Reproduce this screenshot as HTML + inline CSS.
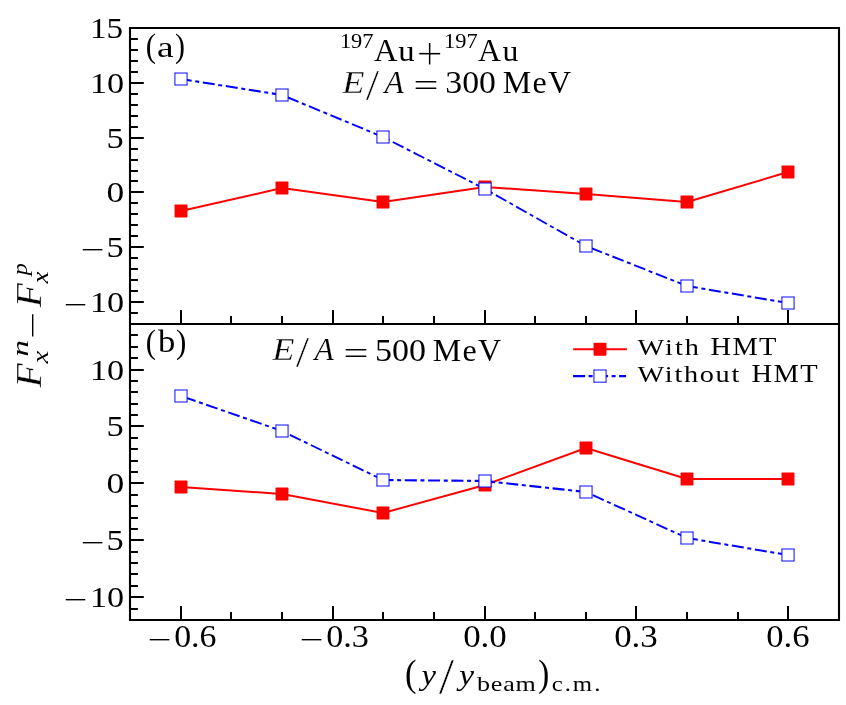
<!DOCTYPE html>
<html><head><meta charset="utf-8"><title>Figure</title>
<style>html,body{margin:0;padding:0;background:#fff}svg{display:block}</style></head>
<body>
<svg width="846" height="705" viewBox="0 0 846 705">
<rect width="846" height="705" fill="#fff"/>
<path d="M130.0 313h7.9 M130.0 302h13.8 M130.0 291h7.9 M130.0 280h7.9 M130.0 269h7.9 M130.0 258h7.9 M130.0 247h13.8 M130.0 236h7.9 M130.0 225h7.9 M130.0 214h7.9 M130.0 203h7.9 M130.0 192h13.8 M130.0 181h7.9 M130.0 171h7.9 M130.0 160h7.9 M130.0 149h7.9 M130.0 138h13.8 M130.0 127h7.9 M130.0 116h7.9 M130.0 105h7.9 M130.0 94h7.9 M130.0 83h13.8 M130.0 72h7.9 M130.0 61h7.9 M130.0 50h7.9 M130.0 39h7.9 M130.0 609h7.9 M130.0 597h13.8 M130.0 586h7.9 M130.0 574h7.9 M130.0 563h7.9 M130.0 552h7.9 M130.0 540h13.8 M130.0 529h7.9 M130.0 518h7.9 M130.0 506h7.9 M130.0 495h7.9 M130.0 483h13.8 M130.0 472h7.9 M130.0 461h7.9 M130.0 449h7.9 M130.0 438h7.9 M130.0 426h13.8 M130.0 415h7.9 M130.0 404h7.9 M130.0 392h7.9 M130.0 381h7.9 M130.0 370h13.8 M130.0 358h7.9 M130.0 347h7.9 M130.0 335h7.9 M181 324.0v-14.0 M181 620.0v-14.0 M231 324.0v-7.9 M231 620.0v-7.9 M282 324.0v-7.9 M282 620.0v-7.9 M333 324.0v-14.0 M333 620.0v-14.0 M383 324.0v-7.9 M383 620.0v-7.9 M434 324.0v-7.9 M434 620.0v-7.9 M485 324.0v-14.0 M485 620.0v-14.0 M535 324.0v-7.9 M535 620.0v-7.9 M586 324.0v-7.9 M586 620.0v-7.9 M636 324.0v-14.0 M636 620.0v-14.0 M687 324.0v-7.9 M687 620.0v-7.9 M738 324.0v-7.9 M738 620.0v-7.9 M788 324.0v-14.0 M788 620.0v-14.0" stroke="#000" stroke-width="2.0" fill="none"/>
<path d="M181 211L282 188" stroke="#ff0000" stroke-width="1.95" fill="none"/>
<path d="M282 188L383 202" stroke="#ff0000" stroke-width="1.98" fill="none"/>
<path d="M383 202L485 187" stroke="#ff0000" stroke-width="1.98" fill="none"/>
<path d="M485 187L586 194" stroke="#ff0000" stroke-width="2.00" fill="none"/>
<path d="M586 194L687 202" stroke="#ff0000" stroke-width="1.99" fill="none"/>
<path d="M687 202L788 172" stroke="#ff0000" stroke-width="1.92" fill="none"/>
<rect x="174.55" y="204.55" width="12.9" height="12.9" rx="0.7" fill="#ff0000"/>
<rect x="275.55" y="181.55" width="12.9" height="12.9" rx="0.7" fill="#ff0000"/>
<rect x="376.55" y="195.55" width="12.9" height="12.9" rx="0.7" fill="#ff0000"/>
<rect x="478.55" y="180.55" width="12.9" height="12.9" rx="0.7" fill="#ff0000"/>
<rect x="579.55" y="187.55" width="12.9" height="12.9" rx="0.7" fill="#ff0000"/>
<rect x="680.55" y="195.55" width="12.9" height="12.9" rx="0.7" fill="#ff0000"/>
<rect x="781.55" y="165.55" width="12.9" height="12.9" rx="0.7" fill="#ff0000"/>
<path d="M282 95L181 79" stroke="#0000ff" stroke-width="2.07" stroke-dasharray="12 3.65 4 3.65" stroke-dashoffset="1.7" fill="none"/>
<path d="M383 137L282 95" stroke="#0000ff" stroke-width="1.94" stroke-dasharray="12 3.65 4 3.65" stroke-dashoffset="1.7" fill="none"/>
<path d="M485 189L383 137" stroke="#0000ff" stroke-width="1.87" stroke-dasharray="12 3.65 4 3.65" stroke-dashoffset="1.7" fill="none"/>
<path d="M586 246L485 189" stroke="#0000ff" stroke-width="1.83" stroke-dasharray="12 3.65 4 3.65" stroke-dashoffset="1.7" fill="none"/>
<path d="M687 286L586 246" stroke="#0000ff" stroke-width="1.95" stroke-dasharray="12 3.65 4 3.65" stroke-dashoffset="1.7" fill="none"/>
<path d="M788 303L687 286" stroke="#0000ff" stroke-width="2.07" stroke-dasharray="12 3.65 4 3.65" stroke-dashoffset="1.7" fill="none"/>
<g transform="translate(181 79)" stroke="#0000ff" stroke-opacity="0.64" stroke-width="1.5" stroke-linecap="round"><rect x="-6.1" y="-6.1" width="12.2" height="12.2" rx="0.6" fill="#fff" stroke="none"/><path d="M-5.8 -6.1H5.8M-5.8 6.1H5.8"/><path d="M-6.1 -5.8V5.8M6.1 -5.8V5.8"/></g>
<g transform="translate(282 95)" stroke="#0000ff" stroke-opacity="0.64" stroke-width="1.5" stroke-linecap="round"><rect x="-6.1" y="-6.1" width="12.2" height="12.2" rx="0.6" fill="#fff" stroke="none"/><path d="M-5.8 -6.1H5.8M-5.8 6.1H5.8"/><path d="M-6.1 -5.8V5.8M6.1 -5.8V5.8"/></g>
<g transform="translate(383 137)" stroke="#0000ff" stroke-opacity="0.64" stroke-width="1.5" stroke-linecap="round"><rect x="-6.1" y="-6.1" width="12.2" height="12.2" rx="0.6" fill="#fff" stroke="none"/><path d="M-5.8 -6.1H5.8M-5.8 6.1H5.8"/><path d="M-6.1 -5.8V5.8M6.1 -5.8V5.8"/></g>
<g transform="translate(485 189)" stroke="#0000ff" stroke-opacity="0.64" stroke-width="1.5" stroke-linecap="round"><rect x="-6.1" y="-6.1" width="12.2" height="12.2" rx="0.6" fill="#fff" stroke="none"/><path d="M-5.8 -6.1H5.8M-5.8 6.1H5.8"/><path d="M-6.1 -5.8V5.8M6.1 -5.8V5.8"/></g>
<g transform="translate(586 246)" stroke="#0000ff" stroke-opacity="0.64" stroke-width="1.5" stroke-linecap="round"><rect x="-6.1" y="-6.1" width="12.2" height="12.2" rx="0.6" fill="#fff" stroke="none"/><path d="M-5.8 -6.1H5.8M-5.8 6.1H5.8"/><path d="M-6.1 -5.8V5.8M6.1 -5.8V5.8"/></g>
<g transform="translate(687 286)" stroke="#0000ff" stroke-opacity="0.64" stroke-width="1.5" stroke-linecap="round"><rect x="-6.1" y="-6.1" width="12.2" height="12.2" rx="0.6" fill="#fff" stroke="none"/><path d="M-5.8 -6.1H5.8M-5.8 6.1H5.8"/><path d="M-6.1 -5.8V5.8M6.1 -5.8V5.8"/></g>
<g transform="translate(788 303)" stroke="#0000ff" stroke-opacity="0.64" stroke-width="1.5" stroke-linecap="round"><rect x="-6.1" y="-6.1" width="12.2" height="12.2" rx="0.6" fill="#fff" stroke="none"/><path d="M-5.8 -6.1H5.8M-5.8 6.1H5.8"/><path d="M-6.1 -5.8V5.8M6.1 -5.8V5.8"/></g>
<path d="M181 487L282 494" stroke="#ff0000" stroke-width="2.00" fill="none"/>
<path d="M282 494L383 513" stroke="#ff0000" stroke-width="1.97" fill="none"/>
<path d="M383 513L485 485" stroke="#ff0000" stroke-width="1.93" fill="none"/>
<path d="M485 485L586 448" stroke="#ff0000" stroke-width="1.88" fill="none"/>
<path d="M586 448L687 479" stroke="#ff0000" stroke-width="1.91" fill="none"/>
<path d="M687 479L788 479" stroke="#ff0000" stroke-width="2.00" fill="none"/>
<rect x="174.55" y="480.55" width="12.9" height="12.9" rx="0.7" fill="#ff0000"/>
<rect x="275.55" y="487.55" width="12.9" height="12.9" rx="0.7" fill="#ff0000"/>
<rect x="376.55" y="506.55" width="12.9" height="12.9" rx="0.7" fill="#ff0000"/>
<rect x="478.55" y="478.55" width="12.9" height="12.9" rx="0.7" fill="#ff0000"/>
<rect x="579.55" y="441.55" width="12.9" height="12.9" rx="0.7" fill="#ff0000"/>
<rect x="680.55" y="472.55" width="12.9" height="12.9" rx="0.7" fill="#ff0000"/>
<rect x="781.55" y="472.55" width="12.9" height="12.9" rx="0.7" fill="#ff0000"/>
<path d="M282 431L181 396" stroke="#0000ff" stroke-width="1.98" stroke-dasharray="12 3.65 4 3.65" stroke-dashoffset="1.7" fill="none"/>
<path d="M383 480L282 431" stroke="#0000ff" stroke-width="1.89" stroke-dasharray="12 3.65 4 3.65" stroke-dashoffset="1.7" fill="none"/>
<path d="M485 481L383 480" stroke="#0000ff" stroke-width="2.10" stroke-dasharray="12 3.65 4 3.65" stroke-dashoffset="1.7" fill="none"/>
<path d="M586 492L485 481" stroke="#0000ff" stroke-width="2.09" stroke-dasharray="12 3.65 4 3.65" stroke-dashoffset="1.7" fill="none"/>
<path d="M687 538L586 492" stroke="#0000ff" stroke-width="1.91" stroke-dasharray="12 3.65 4 3.65" stroke-dashoffset="1.7" fill="none"/>
<path d="M788 555L687 538" stroke="#0000ff" stroke-width="2.07" stroke-dasharray="12 3.65 4 3.65" stroke-dashoffset="1.7" fill="none"/>
<g transform="translate(181 396)" stroke="#0000ff" stroke-opacity="0.64" stroke-width="1.5" stroke-linecap="round"><rect x="-6.1" y="-6.1" width="12.2" height="12.2" rx="0.6" fill="#fff" stroke="none"/><path d="M-5.8 -6.1H5.8M-5.8 6.1H5.8"/><path d="M-6.1 -5.8V5.8M6.1 -5.8V5.8"/></g>
<g transform="translate(282 431)" stroke="#0000ff" stroke-opacity="0.64" stroke-width="1.5" stroke-linecap="round"><rect x="-6.1" y="-6.1" width="12.2" height="12.2" rx="0.6" fill="#fff" stroke="none"/><path d="M-5.8 -6.1H5.8M-5.8 6.1H5.8"/><path d="M-6.1 -5.8V5.8M6.1 -5.8V5.8"/></g>
<g transform="translate(383 480)" stroke="#0000ff" stroke-opacity="0.64" stroke-width="1.5" stroke-linecap="round"><rect x="-6.1" y="-6.1" width="12.2" height="12.2" rx="0.6" fill="#fff" stroke="none"/><path d="M-5.8 -6.1H5.8M-5.8 6.1H5.8"/><path d="M-6.1 -5.8V5.8M6.1 -5.8V5.8"/></g>
<g transform="translate(485 481)" stroke="#0000ff" stroke-opacity="0.64" stroke-width="1.5" stroke-linecap="round"><rect x="-6.1" y="-6.1" width="12.2" height="12.2" rx="0.6" fill="#fff" stroke="none"/><path d="M-5.8 -6.1H5.8M-5.8 6.1H5.8"/><path d="M-6.1 -5.8V5.8M6.1 -5.8V5.8"/></g>
<g transform="translate(586 492)" stroke="#0000ff" stroke-opacity="0.64" stroke-width="1.5" stroke-linecap="round"><rect x="-6.1" y="-6.1" width="12.2" height="12.2" rx="0.6" fill="#fff" stroke="none"/><path d="M-5.8 -6.1H5.8M-5.8 6.1H5.8"/><path d="M-6.1 -5.8V5.8M6.1 -5.8V5.8"/></g>
<g transform="translate(687 538)" stroke="#0000ff" stroke-opacity="0.64" stroke-width="1.5" stroke-linecap="round"><rect x="-6.1" y="-6.1" width="12.2" height="12.2" rx="0.6" fill="#fff" stroke="none"/><path d="M-5.8 -6.1H5.8M-5.8 6.1H5.8"/><path d="M-6.1 -5.8V5.8M6.1 -5.8V5.8"/></g>
<g transform="translate(788 555)" stroke="#0000ff" stroke-opacity="0.64" stroke-width="1.5" stroke-linecap="round"><rect x="-6.1" y="-6.1" width="12.2" height="12.2" rx="0.6" fill="#fff" stroke="none"/><path d="M-5.8 -6.1H5.8M-5.8 6.1H5.8"/><path d="M-6.1 -5.8V5.8M6.1 -5.8V5.8"/></g>
<path d="M573.2 349.2H626.9" stroke="#ff0000" stroke-width="2"/>
<rect x="593.55" y="342.75" width="12.9" height="12.9" rx="0.7" fill="#ff0000"/>
<path d="M573.1 376.1H626.1" stroke="#0000ff" stroke-width="2.1" stroke-dasharray="12 3.5 4 3.5"/>
<g transform="translate(600 376.1)" stroke="#0000ff" stroke-opacity="0.64" stroke-width="1.5" stroke-linecap="round"><rect x="-6.1" y="-6.1" width="12.2" height="12.2" rx="0.6" fill="#fff" stroke="none"/><path d="M-5.8 -6.1H5.8M-5.8 6.1H5.8"/><path d="M-6.1 -5.8V5.8M6.1 -5.8V5.8"/></g>
<path d="M130.0 28.0H839.0V620.0H130.0Z M130.0 324.0H839.0" stroke="#000" stroke-width="2.1" fill="none" stroke-linejoin="miter"/>
<g font-family="&quot;Liberation Serif&quot;, serif" fill="#000">
<text transform="translate(90.02 38.35) scale(1.1007 1)" font-size="30.08">15</text>
<text transform="translate(89.92 93.35) scale(1.1560 1)" font-size="29.63">10</text>
<text transform="translate(106.43 148.35) scale(1.1471 1)" font-size="30.08">5</text>
<text transform="translate(106.48 202.35) scale(1.1973 1)" font-size="29.63">0</text>
<text transform="translate(80.89 259.14) scale(1.5054 1)" font-size="28.00">−</text><text transform="translate(106.43 257.35) scale(1.1471 1)" font-size="30.08">5</text>
<text transform="translate(63.90 314.14) scale(1.4977 1)" font-size="28.00">−</text><text transform="translate(89.92 312.35) scale(1.1560 1)" font-size="29.63">10</text>
<text transform="translate(89.92 380.35) scale(1.1560 1)" font-size="29.63">10</text>
<text transform="translate(106.43 436.35) scale(1.1471 1)" font-size="30.08">5</text>
<text transform="translate(106.48 493.35) scale(1.1973 1)" font-size="29.63">0</text>
<text transform="translate(80.89 552.14) scale(1.5054 1)" font-size="28.00">−</text><text transform="translate(106.43 550.35) scale(1.1471 1)" font-size="30.08">5</text>
<text transform="translate(63.90 609.14) scale(1.4977 1)" font-size="28.00">−</text><text transform="translate(89.92 607.35) scale(1.1560 1)" font-size="29.63">10</text>
<text transform="translate(148.09 648.84) scale(1.5054 1)" font-size="28.00">−</text><text transform="translate(174.14 647.14) scale(1.1082 1)" font-size="30.59">0.6</text>
<text transform="translate(300.09 648.84) scale(1.5054 1)" font-size="28.00">−</text><text transform="translate(326.13 647.14) scale(1.1177 1)" font-size="30.59">0.3</text>
<text transform="translate(463.15 647.14) scale(1.1428 1)" font-size="30.59">0.0</text>
<text transform="translate(614.15 647.14) scale(1.1428 1)" font-size="30.59">0.3</text>
<text transform="translate(766.16 647.14) scale(1.1331 1)" font-size="30.59">0.6</text>
<text transform="translate(145.72 56.72) scale(0.9332 1)" font-size="32.78">(</text><text transform="translate(157.09 56.50) scale(1.2533 1)" font-size="29.89">a</text><text transform="translate(174.90 56.72) scale(0.9153 1)" font-size="32.78">)</text>
<text transform="translate(145.72 352.72) scale(0.9332 1)" font-size="32.78">(</text><text transform="translate(158.10 352.49) scale(1.1254 1)" font-size="30.71">b</text><text transform="translate(175.97 352.72) scale(0.9505 1)" font-size="32.78">)</text>
<text transform="translate(339.88 47.99) scale(1.0751 1)" font-size="20.90">197</text><text transform="translate(373.98 60.50) scale(1.0278 1)" font-size="31.60">A</text><text transform="translate(398.31 60.70) scale(1.0806 1)" font-size="30.32">u</text><text transform="translate(416.46 69.90) scale(0.9758 1)" font-size="48.04" stroke="#fff" stroke-width="0.8">+</text><text transform="translate(443.98 47.99) scale(1.0751 1)" font-size="20.90">197</text><text transform="translate(478.08 60.50) scale(1.0054 1)" font-size="31.60">A</text><text transform="translate(502.42 60.70) scale(1.0455 1)" font-size="30.32">u</text>
<text transform="translate(342.21 93.05) scale(1.1850 1)" font-size="30.69" font-style="italic" stroke="#fff" stroke-width="0.3">E</text><text transform="translate(365.80 99.86) scale(1.0939 1)" font-size="44.21" stroke="#fff" stroke-width="0.6">/</text><text transform="translate(384.46 92.98) scale(0.9917 1)" font-size="31.83" font-style="italic" stroke="#fff" stroke-width="0.15">A</text> <text transform="translate(413.48 96.10) scale(1.4199 1)" font-size="31.20">=</text> <text transform="translate(445.31 93.49) scale(1.0851 1)" font-size="31.11">300</text> <text transform="translate(502.74 93.14) scale(1.0477 1)" font-size="30.53" letter-spacing="1.22">MeV</text>
<text transform="translate(272.21 360.45) scale(1.1850 1)" font-size="30.69" font-style="italic" stroke="#fff" stroke-width="0.3">E</text><text transform="translate(295.80 367.26) scale(1.0939 1)" font-size="44.21" stroke="#fff" stroke-width="0.6">/</text><text transform="translate(314.46 360.37) scale(0.9917 1)" font-size="31.83" font-style="italic" stroke="#fff" stroke-width="0.15">A</text> <text transform="translate(343.48 363.50) scale(1.4199 1)" font-size="31.20">=</text> <text transform="translate(374.96 360.89) scale(1.0929 1)" font-size="31.11">500</text> <text transform="translate(432.74 360.54) scale(1.0477 1)" font-size="30.53" letter-spacing="1.22">MeV</text>
<text transform="translate(637.60 354.65) scale(1.2160 1)" font-size="23.24" letter-spacing="1.63">With</text> <text transform="translate(710.45 354.80) scale(1.1428 1)" font-size="24.89" letter-spacing="1.24">HMT</text>
<text transform="translate(637.60 381.65) scale(1.2178 1)" font-size="23.24" letter-spacing="1.39">Without</text> <text transform="translate(751.44 381.80) scale(1.1463 1)" font-size="24.89" letter-spacing="1.24">HMT</text>
<text transform="translate(404.95 685.65) scale(0.9355 1)" font-size="36.89">(</text><text transform="translate(421.57 684.54) scale(1.1215 1)" font-size="29.10" font-style="italic">y</text><text transform="translate(438.70 693.19) scale(1.0875 1)" font-size="50.83" stroke="#fff" stroke-width="0.6">/</text><text transform="translate(459.32 684.54) scale(1.1410 1)" font-size="29.10" font-style="italic">y</text><text transform="translate(477.00 691.38) scale(1.2086 1)" font-size="21.57" letter-spacing="0.65">beam</text><text transform="translate(538.21 685.65) scale(0.8967 1)" font-size="36.89">)</text><text transform="translate(551.71 691.28) scale(1.1454 1)" font-size="21.65" letter-spacing="1.73">c.m.</text>
<text transform="rotate(-90) translate(-387.55 41.39) scale(1.1185 1)" font-size="35.48" font-style="italic" stroke="#fff" stroke-width="0.3">F</text><text transform="rotate(-90) translate(-356.78 27.61) scale(1.4760 1)" font-size="22.80" font-style="italic">n</text><text transform="rotate(-90) translate(-363.51 48.10) scale(1.2831 1)" font-size="22.42" font-style="italic">x</text><text transform="rotate(-90) translate(-338.39 41.74) scale(1.7051 1)" font-size="28.00">−</text><text transform="rotate(-90) translate(-307.35 41.39) scale(1.1140 1)" font-size="35.48" font-style="italic" stroke="#fff" stroke-width="0.3">F</text><text transform="rotate(-90) translate(-275.15 27.20) scale(1.1022 1)" font-size="21.91" font-style="italic">p</text><text transform="rotate(-90) translate(-283.53 48.10) scale(1.2029 1)" font-size="22.42" font-style="italic">x</text>
</g>
</svg>
</body></html>
